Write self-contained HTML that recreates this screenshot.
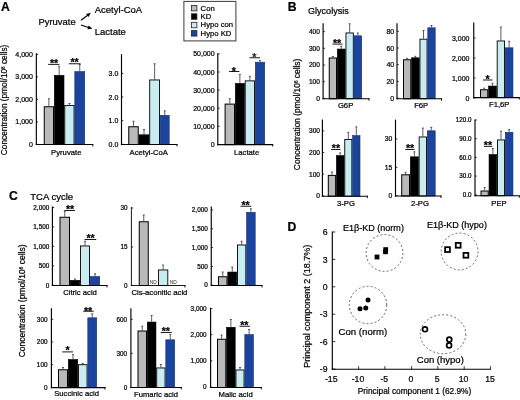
<!DOCTYPE html>
<html><head><meta charset="utf-8"><title>Figure</title>
<style>
html,body{margin:0;padding:0;background:#fff;}
body{width:520px;height:400px;overflow:hidden;font-family:"Liberation Sans",sans-serif;}
svg{display:block;}
svg text{font-family:"Liberation Sans",sans-serif;}
</style></head><body>
<svg width="520" height="400" viewBox="0 0 520 400">
<rect x="0" y="0" width="520" height="400" fill="#ffffff"/>
<text x="1" y="11" font-size="12.2" text-anchor="start" font-weight="bold" fill="#000" stroke="#000" stroke-width="0.22" >A</text>
<text x="38.4" y="24.7" font-size="9.45" text-anchor="start" font-weight="normal" fill="#000" stroke="#000" stroke-width="0.22" >Pyruvate</text>
<text x="94.7" y="12.8" font-size="9.5" text-anchor="start" font-weight="normal" fill="#000" stroke="#000" stroke-width="0.22" >Acetyl-CoA</text>
<text x="94.7" y="34.5" font-size="9.5" text-anchor="start" font-weight="normal" fill="#000" stroke="#000" stroke-width="0.22" >Lactate</text>
<line x1="81" y1="20.3" x2="87.65" y2="15.2" stroke="#000" stroke-width="1.1" />
<polygon points="90.90,12.70 88.41,17.01 86.09,13.99" fill="#000"/>
<line x1="81" y1="25.1" x2="88.5" y2="27.53" stroke="#000" stroke-width="1.1" />
<polygon points="92.40,28.80 87.44,29.19 88.61,25.57" fill="#000"/>
<rect x="183.9" y="1.4" width="52" height="39.5" fill="#fff" stroke="#3a3a3a" stroke-width="1"/>
<rect x="191.4" y="5.3999999999999995" width="5.5" height="5.5" fill="#b9b9b9" stroke="#222" stroke-width="0.8"/>
<text x="200.6" y="10.7" font-size="7.7" text-anchor="start" font-weight="normal" fill="#000" stroke="#000" stroke-width="0.22" >Con</text>
<rect x="191.4" y="13.8" width="5.5" height="5.5" fill="#000000" stroke="#222" stroke-width="0.8"/>
<text x="200.6" y="19.1" font-size="7.7" text-anchor="start" font-weight="normal" fill="#000" stroke="#000" stroke-width="0.22" >KD</text>
<rect x="191.4" y="22.3" width="5.5" height="5.5" fill="#c9ecf0" stroke="#222" stroke-width="0.8"/>
<text x="200.6" y="27.4" font-size="7.7" text-anchor="start" font-weight="normal" fill="#000" stroke="#000" stroke-width="0.22" >Hypo con</text>
<rect x="191.4" y="30.599999999999998" width="5.5" height="5.5" fill="#1b449f" stroke="#222" stroke-width="0.8"/>
<text x="200.6" y="35.5" font-size="7.7" text-anchor="start" font-weight="normal" fill="#000" stroke="#000" stroke-width="0.22" >Hypo KD</text>
<text transform="translate(7.1,99.9) rotate(-90)" font-size="8.31" text-anchor="middle" fill="#000" stroke="#000" stroke-width="0.22">Concentration (pmol/10<tspan font-size="4.6" dy="-2.2">6</tspan><tspan dy="2.2"> cells)</tspan></text>
<line x1="48.875" y1="98.75" x2="48.875" y2="106.25" stroke="#2a2a2a" stroke-width="0.75" />
<line x1="47.875" y1="98.75" x2="49.875" y2="98.75" stroke="#2a2a2a" stroke-width="0.75" />
<rect x="44.25" y="106.75" width="9.25" height="37.75" fill="#b9b9b9" stroke="#000" stroke-width="1.0"/>
<line x1="59.15" y1="66.25" x2="59.15" y2="75" stroke="#2a2a2a" stroke-width="0.75" />
<line x1="58.15" y1="66.25" x2="60.15" y2="66.25" stroke="#2a2a2a" stroke-width="0.75" />
<rect x="54.30" y="75.30" width="9.70" height="69.20" fill="#000000" stroke="#000" stroke-width="0.6"/>
<line x1="69.4" y1="103.5" x2="69.4" y2="105" stroke="#2a2a2a" stroke-width="0.75" />
<line x1="68.4" y1="103.5" x2="70.4" y2="103.5" stroke="#2a2a2a" stroke-width="0.75" />
<rect x="64.75" y="105.45" width="9.30" height="39.05" fill="#c9ecf0" stroke="#000" stroke-width="0.9"/>
<line x1="79.75" y1="64.5" x2="79.75" y2="71.25" stroke="#2a2a2a" stroke-width="0.75" />
<line x1="78.75" y1="64.5" x2="80.75" y2="64.5" stroke="#2a2a2a" stroke-width="0.75" />
<rect x="74.80" y="71.55" width="9.90" height="72.95" fill="#1b449f" stroke="#12306f" stroke-width="0.6"/>
<line x1="36.35" y1="53.35" x2="36.35" y2="145.075" stroke="#000" stroke-width="1.15" />
<line x1="35.775" y1="144.5" x2="93.2" y2="144.5" stroke="#000" stroke-width="1.15" />
<line x1="92.8" y1="144.0" x2="92.8" y2="146.5" stroke="#000" stroke-width="0.9" />
<line x1="36.35" y1="54.4" x2="38.15" y2="54.4" stroke="#000" stroke-width="0.8" />
<text x="32.9" y="56.91" font-size="7.0" text-anchor="end" font-weight="normal" fill="#000" stroke="#000" stroke-width="0.22" >4,000</text>
<line x1="36.35" y1="76.9" x2="38.15" y2="76.9" stroke="#000" stroke-width="0.8" />
<text x="32.9" y="79.41" font-size="7.0" text-anchor="end" font-weight="normal" fill="#000" stroke="#000" stroke-width="0.22" >3,000</text>
<line x1="36.35" y1="99.4" x2="38.15" y2="99.4" stroke="#000" stroke-width="0.8" />
<text x="32.9" y="101.91" font-size="7.0" text-anchor="end" font-weight="normal" fill="#000" stroke="#000" stroke-width="0.22" >2,000</text>
<line x1="36.35" y1="121.9" x2="38.15" y2="121.9" stroke="#000" stroke-width="0.8" />
<text x="32.9" y="124.41" font-size="7.0" text-anchor="end" font-weight="normal" fill="#000" stroke="#000" stroke-width="0.22" >1,000</text>
<line x1="36.35" y1="144.4" x2="38.15" y2="144.4" stroke="#000" stroke-width="0.8" />
<text x="32.9" y="146.91" font-size="7.0" text-anchor="end" font-weight="normal" fill="#000" stroke="#000" stroke-width="0.22" >0</text>
<line x1="48.1" y1="64.4" x2="59.4" y2="64.4" stroke="#000" stroke-width="0.9" />
<text x="54" y="66.9" font-size="10.6" text-anchor="middle" font-weight="bold" fill="#000" stroke="#000" stroke-width="0.22" >**</text>
<line x1="68.75" y1="63.75" x2="80.5" y2="63.75" stroke="#000" stroke-width="0.9" />
<text x="74.5" y="66.25" font-size="10.6" text-anchor="middle" font-weight="bold" fill="#000" stroke="#000" stroke-width="0.22" >**</text>
<text x="66.25" y="155" font-size="7.7" text-anchor="middle" font-weight="normal" fill="#000" stroke="#000" stroke-width="0.22" >Pyruvate</text>
<line x1="133.5" y1="121.25" x2="133.5" y2="126.25" stroke="#2a2a2a" stroke-width="0.75" />
<line x1="132.5" y1="121.25" x2="134.5" y2="121.25" stroke="#2a2a2a" stroke-width="0.75" />
<rect x="128.75" y="126.75" width="9.50" height="17.75" fill="#b9b9b9" stroke="#000" stroke-width="1.0"/>
<line x1="144.0" y1="129.5" x2="144.0" y2="134.5" stroke="#2a2a2a" stroke-width="0.75" />
<line x1="143.0" y1="129.5" x2="145.0" y2="129.5" stroke="#2a2a2a" stroke-width="0.75" />
<rect x="139.05" y="134.80" width="9.90" height="9.70" fill="#000000" stroke="#000" stroke-width="0.6"/>
<line x1="154.625" y1="63.75" x2="154.625" y2="79.5" stroke="#2a2a2a" stroke-width="0.75" />
<line x1="153.625" y1="63.75" x2="155.625" y2="63.75" stroke="#2a2a2a" stroke-width="0.75" />
<rect x="149.70" y="79.95" width="9.85" height="64.55" fill="#c9ecf0" stroke="#000" stroke-width="0.9"/>
<line x1="164.75" y1="110.8" x2="164.75" y2="115" stroke="#2a2a2a" stroke-width="0.75" />
<line x1="163.75" y1="110.8" x2="165.75" y2="110.8" stroke="#2a2a2a" stroke-width="0.75" />
<rect x="160.30" y="115.30" width="8.90" height="29.20" fill="#1b449f" stroke="#12306f" stroke-width="0.6"/>
<line x1="121.5" y1="54.1" x2="121.5" y2="145.075" stroke="#000" stroke-width="1.15" />
<line x1="120.925" y1="144.5" x2="177.4" y2="144.5" stroke="#000" stroke-width="1.15" />
<line x1="177" y1="144.0" x2="177" y2="146.5" stroke="#000" stroke-width="0.9" />
<line x1="121.5" y1="73.4" x2="123.3" y2="73.4" stroke="#000" stroke-width="0.8" />
<text x="118.3" y="75.91" font-size="7.0" text-anchor="end" font-weight="normal" fill="#000" stroke="#000" stroke-width="0.22" >3.0</text>
<line x1="121.5" y1="97" x2="123.3" y2="97" stroke="#000" stroke-width="0.8" />
<text x="118.3" y="99.51" font-size="7.0" text-anchor="end" font-weight="normal" fill="#000" stroke="#000" stroke-width="0.22" >2.0</text>
<line x1="121.5" y1="120.6" x2="123.3" y2="120.6" stroke="#000" stroke-width="0.8" />
<text x="118.3" y="123.11" font-size="7.0" text-anchor="end" font-weight="normal" fill="#000" stroke="#000" stroke-width="0.22" >1.0</text>
<line x1="121.5" y1="144.25" x2="123.3" y2="144.25" stroke="#000" stroke-width="0.8" />
<text x="118.3" y="146.76" font-size="7.0" text-anchor="end" font-weight="normal" fill="#000" stroke="#000" stroke-width="0.22" >0.0</text>
<text x="148.75" y="155" font-size="7.7" text-anchor="middle" font-weight="normal" fill="#000" stroke="#000" stroke-width="0.22" >Acetyl-CoA</text>
<line x1="229.8" y1="98.65" x2="229.8" y2="103.6" stroke="#2a2a2a" stroke-width="0.75" />
<line x1="228.8" y1="98.65" x2="230.8" y2="98.65" stroke="#2a2a2a" stroke-width="0.75" />
<rect x="225.10" y="104.10" width="9.40" height="40.50" fill="#b9b9b9" stroke="#000" stroke-width="1.0"/>
<line x1="239.875" y1="74.4" x2="239.875" y2="83.1" stroke="#2a2a2a" stroke-width="0.75" />
<line x1="238.875" y1="74.4" x2="240.875" y2="74.4" stroke="#2a2a2a" stroke-width="0.75" />
<rect x="235.30" y="83.40" width="9.15" height="61.20" fill="#000000" stroke="#000" stroke-width="0.6"/>
<line x1="249.875" y1="76.25" x2="249.875" y2="80.4" stroke="#2a2a2a" stroke-width="0.75" />
<line x1="248.875" y1="76.25" x2="250.875" y2="76.25" stroke="#2a2a2a" stroke-width="0.75" />
<rect x="245.20" y="80.85" width="9.35" height="63.75" fill="#c9ecf0" stroke="#000" stroke-width="0.9"/>
<line x1="260.0" y1="60.6" x2="260.0" y2="61.9" stroke="#2a2a2a" stroke-width="0.75" />
<line x1="259.0" y1="60.6" x2="261.0" y2="60.6" stroke="#2a2a2a" stroke-width="0.75" />
<rect x="255.30" y="62.20" width="9.40" height="82.40" fill="#1b449f" stroke="#12306f" stroke-width="0.6"/>
<line x1="217.8" y1="53.35" x2="217.8" y2="145.17499999999998" stroke="#000" stroke-width="1.15" />
<line x1="217.22500000000002" y1="144.6" x2="273.09999999999997" y2="144.6" stroke="#000" stroke-width="1.15" />
<line x1="272.7" y1="144.1" x2="272.7" y2="146.6" stroke="#000" stroke-width="0.9" />
<line x1="217.8" y1="53.9" x2="219.60000000000002" y2="53.9" stroke="#000" stroke-width="0.8" />
<text x="214.6" y="56.41" font-size="7.0" text-anchor="end" font-weight="normal" fill="#000" stroke="#000" stroke-width="0.22" >50,000</text>
<line x1="217.8" y1="72" x2="219.60000000000002" y2="72" stroke="#000" stroke-width="0.8" />
<text x="214.6" y="74.51" font-size="7.0" text-anchor="end" font-weight="normal" fill="#000" stroke="#000" stroke-width="0.22" >40,000</text>
<line x1="217.8" y1="90.1" x2="219.60000000000002" y2="90.1" stroke="#000" stroke-width="0.8" />
<text x="214.6" y="92.61" font-size="7.0" text-anchor="end" font-weight="normal" fill="#000" stroke="#000" stroke-width="0.22" >30,000</text>
<line x1="217.8" y1="108.2" x2="219.60000000000002" y2="108.2" stroke="#000" stroke-width="0.8" />
<text x="214.6" y="110.71" font-size="7.0" text-anchor="end" font-weight="normal" fill="#000" stroke="#000" stroke-width="0.22" >20,000</text>
<line x1="217.8" y1="126.3" x2="219.60000000000002" y2="126.3" stroke="#000" stroke-width="0.8" />
<text x="214.6" y="128.81" font-size="7.0" text-anchor="end" font-weight="normal" fill="#000" stroke="#000" stroke-width="0.22" >10,000</text>
<line x1="217.8" y1="144.5" x2="219.60000000000002" y2="144.5" stroke="#000" stroke-width="0.8" />
<text x="214.6" y="147.01" font-size="7.0" text-anchor="end" font-weight="normal" fill="#000" stroke="#000" stroke-width="0.22" >0</text>
<line x1="229" y1="71.5" x2="239.4" y2="71.5" stroke="#000" stroke-width="0.9" />
<text x="233.75" y="74.9" font-size="10.6" text-anchor="middle" font-weight="bold" fill="#000" stroke="#000" stroke-width="0.22" >*</text>
<line x1="249.4" y1="57.75" x2="260" y2="57.75" stroke="#000" stroke-width="0.9" />
<text x="254.4" y="61.15" font-size="10.6" text-anchor="middle" font-weight="bold" fill="#3a2048" stroke="#3a2048" stroke-width="0.22" >*</text>
<text x="246.6" y="155" font-size="7.7" text-anchor="middle" font-weight="normal" fill="#000" stroke="#000" stroke-width="0.22" >Lactate</text>
<text x="287.8" y="11.3" font-size="12.2" text-anchor="start" font-weight="bold" fill="#000" stroke="#000" stroke-width="0.22" >B</text>
<text x="308" y="13.5" font-size="9.05" text-anchor="start" font-weight="normal" fill="#000" stroke="#000" stroke-width="0.22" >Glycolysis</text>
<text transform="translate(299.8,114.4) rotate(-90)" font-size="8.39" text-anchor="middle" fill="#000" stroke="#000" stroke-width="0.22">Concentration (pmol/10<tspan font-size="4.6" dy="-2.2">6</tspan><tspan dy="2.2"> cells)</tspan></text>
<line x1="332.875" y1="56.5" x2="332.875" y2="57.5" stroke="#2a2a2a" stroke-width="0.75" />
<line x1="331.875" y1="56.5" x2="333.875" y2="56.5" stroke="#2a2a2a" stroke-width="0.75" />
<rect x="329.25" y="58.00" width="7.25" height="40.75" fill="#b9b9b9" stroke="#000" stroke-width="1.0"/>
<line x1="341.25" y1="46.25" x2="341.25" y2="48.75" stroke="#2a2a2a" stroke-width="0.75" />
<line x1="340.25" y1="46.25" x2="342.25" y2="46.25" stroke="#2a2a2a" stroke-width="0.75" />
<rect x="337.30" y="49.05" width="7.90" height="49.70" fill="#000000" stroke="#000" stroke-width="0.6"/>
<line x1="349.625" y1="23.75" x2="349.625" y2="32.5" stroke="#2a2a2a" stroke-width="0.75" />
<line x1="348.625" y1="23.75" x2="350.625" y2="23.75" stroke="#2a2a2a" stroke-width="0.75" />
<rect x="345.95" y="32.95" width="7.35" height="65.80" fill="#c9ecf0" stroke="#000" stroke-width="0.9"/>
<line x1="357.875" y1="33" x2="357.875" y2="35.5" stroke="#2a2a2a" stroke-width="0.75" />
<line x1="356.875" y1="33" x2="358.875" y2="33" stroke="#2a2a2a" stroke-width="0.75" />
<rect x="354.05" y="35.80" width="7.65" height="62.95" fill="#1b449f" stroke="#12306f" stroke-width="0.6"/>
<line x1="323.1" y1="23.35" x2="323.1" y2="99.325" stroke="#000" stroke-width="1.15" />
<line x1="322.52500000000003" y1="98.75" x2="369.4" y2="98.75" stroke="#000" stroke-width="1.15" />
<line x1="369" y1="98.25" x2="369" y2="100.75" stroke="#000" stroke-width="0.9" />
<line x1="323.1" y1="31.6" x2="324.90000000000003" y2="31.6" stroke="#000" stroke-width="0.8" />
<text x="319.9" y="33.96" font-size="6.6" text-anchor="end" font-weight="normal" fill="#000" stroke="#000" stroke-width="0.22" >400</text>
<line x1="323.1" y1="48.3" x2="324.90000000000003" y2="48.3" stroke="#000" stroke-width="0.8" />
<text x="319.9" y="50.66" font-size="6.6" text-anchor="end" font-weight="normal" fill="#000" stroke="#000" stroke-width="0.22" >300</text>
<line x1="323.1" y1="65.0" x2="324.90000000000003" y2="65.0" stroke="#000" stroke-width="0.8" />
<text x="319.9" y="67.36" font-size="6.6" text-anchor="end" font-weight="normal" fill="#000" stroke="#000" stroke-width="0.22" >200</text>
<line x1="323.1" y1="81.7" x2="324.90000000000003" y2="81.7" stroke="#000" stroke-width="0.8" />
<text x="319.9" y="84.06" font-size="6.6" text-anchor="end" font-weight="normal" fill="#000" stroke="#000" stroke-width="0.22" >100</text>
<line x1="323.1" y1="98.4" x2="324.90000000000003" y2="98.4" stroke="#000" stroke-width="0.8" />
<text x="319.9" y="100.76" font-size="6.6" text-anchor="end" font-weight="normal" fill="#000" stroke="#000" stroke-width="0.22" >0</text>
<line x1="332.5" y1="44.1" x2="342.5" y2="44.1" stroke="#000" stroke-width="0.9" />
<text x="337" y="47.300000000000004" font-size="10.6" text-anchor="middle" font-weight="bold" fill="#000" stroke="#000" stroke-width="0.22" >**</text>
<text x="345.6" y="108" font-size="7.7" text-anchor="middle" font-weight="normal" fill="#000" stroke="#000" stroke-width="0.22" >G6P</text>
<line x1="407.125" y1="58.3" x2="407.125" y2="59.25" stroke="#2a2a2a" stroke-width="0.75" />
<line x1="406.125" y1="58.3" x2="408.125" y2="58.3" stroke="#2a2a2a" stroke-width="0.75" />
<rect x="403.50" y="59.75" width="7.25" height="39.00" fill="#b9b9b9" stroke="#000" stroke-width="1.0"/>
<line x1="415.375" y1="56.3" x2="415.375" y2="57.5" stroke="#2a2a2a" stroke-width="0.75" />
<line x1="414.375" y1="56.3" x2="416.375" y2="56.3" stroke="#2a2a2a" stroke-width="0.75" />
<rect x="411.55" y="57.80" width="7.65" height="40.95" fill="#000000" stroke="#000" stroke-width="0.6"/>
<line x1="423.5" y1="30.5" x2="423.5" y2="38.75" stroke="#2a2a2a" stroke-width="0.75" />
<line x1="422.5" y1="30.5" x2="424.5" y2="30.5" stroke="#2a2a2a" stroke-width="0.75" />
<rect x="419.95" y="39.20" width="7.10" height="59.55" fill="#c9ecf0" stroke="#000" stroke-width="0.9"/>
<line x1="431.5" y1="25.5" x2="431.5" y2="27.5" stroke="#2a2a2a" stroke-width="0.75" />
<line x1="430.5" y1="25.5" x2="432.5" y2="25.5" stroke="#2a2a2a" stroke-width="0.75" />
<rect x="427.80" y="27.80" width="7.40" height="70.95" fill="#1b449f" stroke="#12306f" stroke-width="0.6"/>
<line x1="397" y1="23.35" x2="397" y2="99.325" stroke="#000" stroke-width="1.15" />
<line x1="396.425" y1="98.75" x2="441.9" y2="98.75" stroke="#000" stroke-width="1.15" />
<line x1="441.5" y1="98.25" x2="441.5" y2="100.75" stroke="#000" stroke-width="0.9" />
<line x1="397" y1="31.3" x2="398.8" y2="31.3" stroke="#000" stroke-width="0.8" />
<text x="394.2" y="33.81" font-size="7.0" text-anchor="end" font-weight="normal" fill="#000" stroke="#000" stroke-width="0.22" >80</text>
<line x1="397" y1="48" x2="398.8" y2="48" stroke="#000" stroke-width="0.8" />
<text x="394.2" y="50.51" font-size="7.0" text-anchor="end" font-weight="normal" fill="#000" stroke="#000" stroke-width="0.22" >60</text>
<line x1="397" y1="64.7" x2="398.8" y2="64.7" stroke="#000" stroke-width="0.8" />
<text x="394.2" y="67.21" font-size="7.0" text-anchor="end" font-weight="normal" fill="#000" stroke="#000" stroke-width="0.22" >40</text>
<line x1="397" y1="81.4" x2="398.8" y2="81.4" stroke="#000" stroke-width="0.8" />
<text x="394.2" y="83.91" font-size="7.0" text-anchor="end" font-weight="normal" fill="#000" stroke="#000" stroke-width="0.22" >20</text>
<line x1="397" y1="98.1" x2="398.8" y2="98.1" stroke="#000" stroke-width="0.8" />
<text x="394.2" y="100.61" font-size="7.0" text-anchor="end" font-weight="normal" fill="#000" stroke="#000" stroke-width="0.22" >0</text>
<text x="421.2" y="107.6" font-size="7.7" text-anchor="middle" font-weight="normal" fill="#000" stroke="#000" stroke-width="0.22" >F6P</text>
<line x1="484.125" y1="88.2" x2="484.125" y2="89.25" stroke="#2a2a2a" stroke-width="0.75" />
<line x1="483.125" y1="88.2" x2="485.125" y2="88.2" stroke="#2a2a2a" stroke-width="0.75" />
<rect x="480.50" y="89.75" width="7.25" height="7.85" fill="#b9b9b9" stroke="#000" stroke-width="1.0"/>
<line x1="492.5" y1="83.25" x2="492.5" y2="85.75" stroke="#2a2a2a" stroke-width="0.75" />
<line x1="491.5" y1="83.25" x2="493.5" y2="83.25" stroke="#2a2a2a" stroke-width="0.75" />
<rect x="488.55" y="86.05" width="7.90" height="11.55" fill="#000000" stroke="#000" stroke-width="0.6"/>
<line x1="500.875" y1="27" x2="500.875" y2="40.5" stroke="#2a2a2a" stroke-width="0.75" />
<line x1="499.875" y1="27" x2="501.875" y2="27" stroke="#2a2a2a" stroke-width="0.75" />
<rect x="497.20" y="40.95" width="7.35" height="56.65" fill="#c9ecf0" stroke="#000" stroke-width="0.9"/>
<line x1="509.125" y1="41.25" x2="509.125" y2="47.5" stroke="#2a2a2a" stroke-width="0.75" />
<line x1="508.125" y1="41.25" x2="510.125" y2="41.25" stroke="#2a2a2a" stroke-width="0.75" />
<rect x="505.30" y="47.80" width="7.65" height="49.80" fill="#1b449f" stroke="#12306f" stroke-width="0.6"/>
<line x1="473.75" y1="22.6" x2="473.75" y2="98.175" stroke="#000" stroke-width="1.15" />
<line x1="473.175" y1="97.6" x2="519.6999999999999" y2="97.6" stroke="#000" stroke-width="1.15" />
<line x1="519.3" y1="97.1" x2="519.3" y2="99.6" stroke="#000" stroke-width="0.9" />
<line x1="473.75" y1="38" x2="475.55" y2="38" stroke="#000" stroke-width="0.8" />
<text x="469.5" y="40.51" font-size="7.0" text-anchor="end" font-weight="normal" fill="#000" stroke="#000" stroke-width="0.22" >3,000</text>
<line x1="473.75" y1="58" x2="475.55" y2="58" stroke="#000" stroke-width="0.8" />
<text x="469.5" y="60.51" font-size="7.0" text-anchor="end" font-weight="normal" fill="#000" stroke="#000" stroke-width="0.22" >2,000</text>
<line x1="473.75" y1="78" x2="475.55" y2="78" stroke="#000" stroke-width="0.8" />
<text x="469.5" y="80.51" font-size="7.0" text-anchor="end" font-weight="normal" fill="#000" stroke="#000" stroke-width="0.22" >1,000</text>
<line x1="473.75" y1="98" x2="475.55" y2="98" stroke="#000" stroke-width="0.8" />
<text x="469.5" y="100.51" font-size="7.0" text-anchor="end" font-weight="normal" fill="#000" stroke="#000" stroke-width="0.22" >0</text>
<line x1="483" y1="80" x2="492.5" y2="80" stroke="#000" stroke-width="0.9" />
<text x="487.5" y="82.5" font-size="10.6" text-anchor="middle" font-weight="bold" fill="#000" stroke="#000" stroke-width="0.22" >*</text>
<text x="499.2" y="106.6" font-size="7.7" text-anchor="middle" font-weight="normal" fill="#000" stroke="#000" stroke-width="0.22" >F1,6P</text>
<line x1="331.95000000000005" y1="172" x2="331.95000000000005" y2="174.9" stroke="#2a2a2a" stroke-width="0.75" />
<line x1="330.95000000000005" y1="172" x2="332.95000000000005" y2="172" stroke="#2a2a2a" stroke-width="0.75" />
<rect x="328.30" y="175.40" width="7.30" height="20.80" fill="#b9b9b9" stroke="#000" stroke-width="1.0"/>
<line x1="340.20000000000005" y1="152.9" x2="340.20000000000005" y2="155.3" stroke="#2a2a2a" stroke-width="0.75" />
<line x1="339.20000000000005" y1="152.9" x2="341.20000000000005" y2="152.9" stroke="#2a2a2a" stroke-width="0.75" />
<rect x="336.40" y="155.60" width="7.60" height="40.60" fill="#000000" stroke="#000" stroke-width="0.6"/>
<line x1="348.3" y1="132.3" x2="348.3" y2="139" stroke="#2a2a2a" stroke-width="0.75" />
<line x1="347.3" y1="132.3" x2="349.3" y2="132.3" stroke="#2a2a2a" stroke-width="0.75" />
<rect x="344.75" y="139.45" width="7.10" height="56.75" fill="#c9ecf0" stroke="#000" stroke-width="0.9"/>
<line x1="356.3" y1="126.9" x2="356.3" y2="135.3" stroke="#2a2a2a" stroke-width="0.75" />
<line x1="355.3" y1="126.9" x2="357.3" y2="126.9" stroke="#2a2a2a" stroke-width="0.75" />
<rect x="352.60" y="135.60" width="7.40" height="60.60" fill="#1b449f" stroke="#12306f" stroke-width="0.6"/>
<line x1="322.4" y1="119.6" x2="322.4" y2="196.77499999999998" stroke="#000" stroke-width="1.15" />
<line x1="321.825" y1="196.2" x2="367.7" y2="196.2" stroke="#000" stroke-width="1.15" />
<line x1="367.3" y1="195.7" x2="367.3" y2="198.2" stroke="#000" stroke-width="0.9" />
<line x1="322.4" y1="130.8" x2="324.2" y2="130.8" stroke="#000" stroke-width="0.8" />
<text x="320" y="133.16" font-size="6.6" text-anchor="end" font-weight="normal" fill="#000" stroke="#000" stroke-width="0.22" >300</text>
<line x1="322.4" y1="152.5" x2="324.2" y2="152.5" stroke="#000" stroke-width="0.8" />
<text x="320" y="154.86" font-size="6.6" text-anchor="end" font-weight="normal" fill="#000" stroke="#000" stroke-width="0.22" >200</text>
<line x1="322.4" y1="174.2" x2="324.2" y2="174.2" stroke="#000" stroke-width="0.8" />
<text x="320" y="176.56" font-size="6.6" text-anchor="end" font-weight="normal" fill="#000" stroke="#000" stroke-width="0.22" >100</text>
<line x1="322.4" y1="195.9" x2="324.2" y2="195.9" stroke="#000" stroke-width="0.8" />
<text x="320" y="198.26" font-size="6.6" text-anchor="end" font-weight="normal" fill="#000" stroke="#000" stroke-width="0.22" >0</text>
<line x1="331.2" y1="149.5" x2="340.4" y2="149.5" stroke="#000" stroke-width="0.9" />
<text x="335.9" y="152.0" font-size="10.6" text-anchor="middle" font-weight="bold" fill="#000" stroke="#000" stroke-width="0.22" >**</text>
<text x="346" y="205.5" font-size="7.7" text-anchor="middle" font-weight="normal" fill="#000" stroke="#000" stroke-width="0.22" >3-PG</text>
<line x1="405.6" y1="172.3" x2="405.6" y2="174.3" stroke="#2a2a2a" stroke-width="0.75" />
<line x1="404.6" y1="172.3" x2="406.6" y2="172.3" stroke="#2a2a2a" stroke-width="0.75" />
<rect x="401.70" y="174.80" width="7.80" height="21.20" fill="#b9b9b9" stroke="#000" stroke-width="1.0"/>
<line x1="414.35" y1="151.8" x2="414.35" y2="156.5" stroke="#2a2a2a" stroke-width="0.75" />
<line x1="413.35" y1="151.8" x2="415.35" y2="151.8" stroke="#2a2a2a" stroke-width="0.75" />
<rect x="410.30" y="156.80" width="8.10" height="39.20" fill="#000000" stroke="#000" stroke-width="0.6"/>
<line x1="422.85" y1="128.1" x2="422.85" y2="136.5" stroke="#2a2a2a" stroke-width="0.75" />
<line x1="421.85" y1="128.1" x2="423.85" y2="128.1" stroke="#2a2a2a" stroke-width="0.75" />
<rect x="419.15" y="136.95" width="7.40" height="59.05" fill="#c9ecf0" stroke="#000" stroke-width="0.9"/>
<line x1="431.25" y1="127.3" x2="431.25" y2="130.5" stroke="#2a2a2a" stroke-width="0.75" />
<line x1="430.25" y1="127.3" x2="432.25" y2="127.3" stroke="#2a2a2a" stroke-width="0.75" />
<rect x="427.30" y="130.80" width="7.90" height="65.20" fill="#1b449f" stroke="#12306f" stroke-width="0.6"/>
<line x1="395.5" y1="119.6" x2="395.5" y2="196.575" stroke="#000" stroke-width="1.15" />
<line x1="394.925" y1="196" x2="441.4" y2="196" stroke="#000" stroke-width="1.15" />
<line x1="441" y1="195.5" x2="441" y2="198.0" stroke="#000" stroke-width="0.9" />
<line x1="395.5" y1="139" x2="397.3" y2="139" stroke="#000" stroke-width="0.8" />
<text x="392.3" y="141.43" font-size="6.8" text-anchor="end" font-weight="normal" fill="#000" stroke="#000" stroke-width="0.22" >30</text>
<line x1="395.5" y1="167.4" x2="397.3" y2="167.4" stroke="#000" stroke-width="0.8" />
<text x="392.3" y="169.83" font-size="6.8" text-anchor="end" font-weight="normal" fill="#000" stroke="#000" stroke-width="0.22" >15</text>
<line x1="395.5" y1="195.7" x2="397.3" y2="195.7" stroke="#000" stroke-width="0.8" />
<text x="392.3" y="198.13" font-size="6.8" text-anchor="end" font-weight="normal" fill="#000" stroke="#000" stroke-width="0.22" >0</text>
<line x1="405.4" y1="149.5" x2="414.6" y2="149.5" stroke="#000" stroke-width="0.9" />
<text x="410" y="152.0" font-size="10.6" text-anchor="middle" font-weight="bold" fill="#000" stroke="#000" stroke-width="0.22" >**</text>
<text x="420" y="205.5" font-size="7.7" text-anchor="middle" font-weight="normal" fill="#000" stroke="#000" stroke-width="0.22" >2-PG</text>
<line x1="484.625" y1="187.5" x2="484.625" y2="190.5" stroke="#2a2a2a" stroke-width="0.75" />
<line x1="483.625" y1="187.5" x2="485.625" y2="187.5" stroke="#2a2a2a" stroke-width="0.75" />
<rect x="481.00" y="191.00" width="7.25" height="4.75" fill="#b9b9b9" stroke="#000" stroke-width="1.0"/>
<line x1="492.875" y1="148.5" x2="492.875" y2="154.25" stroke="#2a2a2a" stroke-width="0.75" />
<line x1="491.875" y1="148.5" x2="493.875" y2="148.5" stroke="#2a2a2a" stroke-width="0.75" />
<rect x="489.05" y="154.55" width="7.65" height="41.20" fill="#000000" stroke="#000" stroke-width="0.6"/>
<line x1="501.0" y1="131.25" x2="501.0" y2="139.5" stroke="#2a2a2a" stroke-width="0.75" />
<line x1="500.0" y1="131.25" x2="502.0" y2="131.25" stroke="#2a2a2a" stroke-width="0.75" />
<rect x="497.45" y="139.95" width="7.10" height="55.80" fill="#c9ecf0" stroke="#000" stroke-width="0.9"/>
<line x1="509.125" y1="129.5" x2="509.125" y2="132" stroke="#2a2a2a" stroke-width="0.75" />
<line x1="508.125" y1="129.5" x2="510.125" y2="129.5" stroke="#2a2a2a" stroke-width="0.75" />
<rect x="505.30" y="132.30" width="7.65" height="63.45" fill="#1b449f" stroke="#12306f" stroke-width="0.6"/>
<line x1="475.0" y1="119.6" x2="475.0" y2="196.325" stroke="#000" stroke-width="1.15" />
<line x1="474.425" y1="195.75" x2="519.6999999999999" y2="195.75" stroke="#000" stroke-width="1.15" />
<line x1="519.3" y1="195.25" x2="519.3" y2="197.75" stroke="#000" stroke-width="0.9" />
<line x1="475.0" y1="120" x2="476.8" y2="120" stroke="#000" stroke-width="0.8" />
<text x="471.4" y="122.26" font-size="6.3" text-anchor="end" font-weight="normal" fill="#000" stroke="#000" stroke-width="0.22" >120.0</text>
<line x1="475.0" y1="138.7" x2="476.8" y2="138.7" stroke="#000" stroke-width="0.8" />
<text x="471.4" y="140.96" font-size="6.3" text-anchor="end" font-weight="normal" fill="#000" stroke="#000" stroke-width="0.22" >90.0</text>
<line x1="475.0" y1="157.4" x2="476.8" y2="157.4" stroke="#000" stroke-width="0.8" />
<text x="471.4" y="159.66" font-size="6.3" text-anchor="end" font-weight="normal" fill="#000" stroke="#000" stroke-width="0.22" >60.0</text>
<line x1="475.0" y1="176.1" x2="476.8" y2="176.1" stroke="#000" stroke-width="0.8" />
<text x="471.4" y="178.36" font-size="6.3" text-anchor="end" font-weight="normal" fill="#000" stroke="#000" stroke-width="0.22" >30.0</text>
<line x1="475.0" y1="194.9" x2="476.8" y2="194.9" stroke="#000" stroke-width="0.8" />
<text x="471.4" y="197.16" font-size="6.3" text-anchor="end" font-weight="normal" fill="#000" stroke="#000" stroke-width="0.22" >0.0</text>
<line x1="483.9" y1="146.4" x2="492.3" y2="146.4" stroke="#000" stroke-width="0.9" />
<text x="487.9" y="148.9" font-size="10.6" text-anchor="middle" font-weight="bold" fill="#000" stroke="#000" stroke-width="0.22" >**</text>
<text x="499" y="205.5" font-size="7.7" text-anchor="middle" font-weight="normal" fill="#000" stroke="#000" stroke-width="0.22" >PEP</text>
<text x="9.1" y="200.3" font-size="12.2" text-anchor="start" font-weight="bold" fill="#000" stroke="#000" stroke-width="0.22" >C</text>
<text x="30.2" y="200" font-size="9.55" text-anchor="start" font-weight="normal" fill="#000" stroke="#000" stroke-width="0.22" >TCA cycle</text>
<text transform="translate(24.8,300.9) rotate(-90)" font-size="8.47" text-anchor="middle" fill="#000" stroke="#000" stroke-width="0.22">Concentration (pmol/10<tspan font-size="4.6" dy="-2.2">6</tspan><tspan dy="2.2"> cells)</tspan></text>
<line x1="64.75" y1="211.25" x2="64.75" y2="216.75" stroke="#2a2a2a" stroke-width="0.75" />
<line x1="63.75" y1="211.25" x2="65.75" y2="211.25" stroke="#2a2a2a" stroke-width="0.75" />
<rect x="60.00" y="217.25" width="9.50" height="68.25" fill="#b9b9b9" stroke="#000" stroke-width="1.0"/>
<line x1="75.0" y1="279" x2="75.0" y2="280" stroke="#2a2a2a" stroke-width="0.75" />
<line x1="74.0" y1="279" x2="76.0" y2="279" stroke="#2a2a2a" stroke-width="0.75" />
<rect x="70.30" y="280.30" width="9.40" height="5.20" fill="#000000" stroke="#000" stroke-width="0.6"/>
<line x1="85.0" y1="241.25" x2="85.0" y2="245.5" stroke="#2a2a2a" stroke-width="0.75" />
<line x1="84.0" y1="241.25" x2="86.0" y2="241.25" stroke="#2a2a2a" stroke-width="0.75" />
<rect x="80.45" y="245.95" width="9.10" height="39.55" fill="#c9ecf0" stroke="#000" stroke-width="0.9"/>
<line x1="95.0" y1="273.75" x2="95.0" y2="276.25" stroke="#2a2a2a" stroke-width="0.75" />
<line x1="94.0" y1="273.75" x2="96.0" y2="273.75" stroke="#2a2a2a" stroke-width="0.75" />
<rect x="90.30" y="276.55" width="9.40" height="8.95" fill="#1b449f" stroke="#12306f" stroke-width="0.6"/>
<line x1="52.4" y1="206.6" x2="52.4" y2="286.075" stroke="#000" stroke-width="1.15" />
<line x1="51.824999999999996" y1="285.5" x2="107.4" y2="285.5" stroke="#000" stroke-width="1.15" />
<line x1="107" y1="285.0" x2="107" y2="287.5" stroke="#000" stroke-width="0.9" />
<line x1="52.4" y1="207.5" x2="54.199999999999996" y2="207.5" stroke="#000" stroke-width="0.8" />
<text x="49.3" y="209.79" font-size="6.4" text-anchor="end" font-weight="normal" fill="#000" stroke="#000" stroke-width="0.22" >2,000</text>
<line x1="52.4" y1="226.9" x2="54.199999999999996" y2="226.9" stroke="#000" stroke-width="0.8" />
<text x="49.3" y="229.19" font-size="6.4" text-anchor="end" font-weight="normal" fill="#000" stroke="#000" stroke-width="0.22" >1,500</text>
<line x1="52.4" y1="246.3" x2="54.199999999999996" y2="246.3" stroke="#000" stroke-width="0.8" />
<text x="49.3" y="248.59" font-size="6.4" text-anchor="end" font-weight="normal" fill="#000" stroke="#000" stroke-width="0.22" >1,000</text>
<line x1="52.4" y1="265.8" x2="54.199999999999996" y2="265.8" stroke="#000" stroke-width="0.8" />
<text x="49.3" y="268.09" font-size="6.4" text-anchor="end" font-weight="normal" fill="#000" stroke="#000" stroke-width="0.22" >500</text>
<line x1="52.4" y1="285.3" x2="54.199999999999996" y2="285.3" stroke="#000" stroke-width="0.8" />
<text x="49.3" y="287.59" font-size="6.4" text-anchor="end" font-weight="normal" fill="#000" stroke="#000" stroke-width="0.22" >0</text>
<line x1="64.5" y1="210.5" x2="75" y2="210.5" stroke="#000" stroke-width="0.9" />
<text x="70" y="213.0" font-size="10.6" text-anchor="middle" font-weight="bold" fill="#000" stroke="#000" stroke-width="0.22" >**</text>
<line x1="84.5" y1="239.5" x2="96.25" y2="239.5" stroke="#000" stroke-width="0.9" />
<text x="90.5" y="242.0" font-size="10.6" text-anchor="middle" font-weight="bold" fill="#000" stroke="#000" stroke-width="0.22" >**</text>
<text x="80" y="295.0" font-size="7.7" text-anchor="middle" font-weight="normal" fill="#000" stroke="#000" stroke-width="0.22" >Citric acid</text>
<line x1="143.75" y1="215" x2="143.75" y2="221.25" stroke="#2a2a2a" stroke-width="0.75" />
<line x1="142.75" y1="215" x2="144.75" y2="215" stroke="#2a2a2a" stroke-width="0.75" />
<rect x="139.25" y="221.75" width="9.00" height="63.75" fill="#b9b9b9" stroke="#000" stroke-width="1.0"/>
<line x1="163.125" y1="265" x2="163.125" y2="269.5" stroke="#2a2a2a" stroke-width="0.75" />
<line x1="162.125" y1="265" x2="164.125" y2="265" stroke="#2a2a2a" stroke-width="0.75" />
<rect x="158.45" y="269.95" width="9.35" height="15.55" fill="#c9ecf0" stroke="#000" stroke-width="0.9"/>
<line x1="131.4" y1="207.1" x2="131.4" y2="285.95" stroke="#000" stroke-width="0.9" />
<line x1="130.95000000000002" y1="285.5" x2="185.4" y2="285.5" stroke="#000" stroke-width="0.9" />
<line x1="185" y1="285.0" x2="185" y2="287.5" stroke="#000" stroke-width="0.9" />
<line x1="131.4" y1="208" x2="133.20000000000002" y2="208" stroke="#000" stroke-width="0.8" />
<text x="127.5" y="210.29" font-size="6.4" text-anchor="end" font-weight="normal" fill="#000" stroke="#000" stroke-width="0.22" >30</text>
<line x1="131.4" y1="247" x2="133.20000000000002" y2="247" stroke="#000" stroke-width="0.8" />
<text x="127.5" y="249.29" font-size="6.4" text-anchor="end" font-weight="normal" fill="#000" stroke="#000" stroke-width="0.22" >15</text>
<line x1="131.4" y1="285.5" x2="133.20000000000002" y2="285.5" stroke="#000" stroke-width="0.8" />
<text x="127.5" y="287.79" font-size="6.4" text-anchor="end" font-weight="normal" fill="#000" stroke="#000" stroke-width="0.22" >0</text>
<text x="159.4" y="294.7" font-size="7.7" text-anchor="middle" font-weight="normal" fill="#000" stroke="#000" stroke-width="0.22" >Cis-aconitic acid</text>
<text x="153.3" y="283.8" font-size="4.8" text-anchor="middle" fill="#222">ND</text>
<text x="173.2" y="283.8" font-size="4.8" text-anchor="middle" fill="#222">ND</text>
<line x1="222.75" y1="272" x2="222.75" y2="276.25" stroke="#2a2a2a" stroke-width="0.75" />
<line x1="221.75" y1="272" x2="223.75" y2="272" stroke="#2a2a2a" stroke-width="0.75" />
<rect x="218.50" y="276.75" width="8.50" height="8.75" fill="#b9b9b9" stroke="#000" stroke-width="1.0"/>
<line x1="232.25" y1="267" x2="232.25" y2="271.75" stroke="#2a2a2a" stroke-width="0.75" />
<line x1="231.25" y1="267" x2="233.25" y2="267" stroke="#2a2a2a" stroke-width="0.75" />
<rect x="227.80" y="272.05" width="8.90" height="13.45" fill="#000000" stroke="#000" stroke-width="0.6"/>
<line x1="241.625" y1="241.25" x2="241.625" y2="244.5" stroke="#2a2a2a" stroke-width="0.75" />
<line x1="240.625" y1="241.25" x2="242.625" y2="241.25" stroke="#2a2a2a" stroke-width="0.75" />
<rect x="237.45" y="244.95" width="8.35" height="40.55" fill="#c9ecf0" stroke="#000" stroke-width="0.9"/>
<line x1="250.875" y1="208.75" x2="250.875" y2="212" stroke="#2a2a2a" stroke-width="0.75" />
<line x1="249.875" y1="208.75" x2="251.875" y2="208.75" stroke="#2a2a2a" stroke-width="0.75" />
<rect x="246.55" y="212.30" width="8.65" height="73.20" fill="#1b449f" stroke="#12306f" stroke-width="0.6"/>
<line x1="211.25" y1="206.6" x2="211.25" y2="286.075" stroke="#000" stroke-width="1.15" />
<line x1="210.675" y1="285.5" x2="262.4" y2="285.5" stroke="#000" stroke-width="1.15" />
<line x1="262" y1="285.0" x2="262" y2="287.5" stroke="#000" stroke-width="0.9" />
<line x1="211.25" y1="210" x2="213.05" y2="210" stroke="#000" stroke-width="0.8" />
<text x="207.8" y="212.29" font-size="6.4" text-anchor="end" font-weight="normal" fill="#000" stroke="#000" stroke-width="0.22" >2,000</text>
<line x1="211.25" y1="228.8" x2="213.05" y2="228.8" stroke="#000" stroke-width="0.8" />
<text x="207.8" y="231.09" font-size="6.4" text-anchor="end" font-weight="normal" fill="#000" stroke="#000" stroke-width="0.22" >1,500</text>
<line x1="211.25" y1="247.6" x2="213.05" y2="247.6" stroke="#000" stroke-width="0.8" />
<text x="207.8" y="249.89" font-size="6.4" text-anchor="end" font-weight="normal" fill="#000" stroke="#000" stroke-width="0.22" >1,000</text>
<line x1="211.25" y1="266.4" x2="213.05" y2="266.4" stroke="#000" stroke-width="0.8" />
<text x="207.8" y="268.69" font-size="6.4" text-anchor="end" font-weight="normal" fill="#000" stroke="#000" stroke-width="0.22" >500</text>
<line x1="211.25" y1="285.2" x2="213.05" y2="285.2" stroke="#000" stroke-width="0.8" />
<text x="207.8" y="287.49" font-size="6.4" text-anchor="end" font-weight="normal" fill="#000" stroke="#000" stroke-width="0.22" >0</text>
<line x1="240.5" y1="206.25" x2="251.25" y2="206.25" stroke="#000" stroke-width="0.9" />
<text x="245.5" y="208.75" font-size="10.6" text-anchor="middle" font-weight="bold" fill="#000" stroke="#000" stroke-width="0.22" >**</text>
<line x1="63.0" y1="367.5" x2="63.0" y2="369.25" stroke="#2a2a2a" stroke-width="0.75" />
<line x1="62.0" y1="367.5" x2="64.0" y2="367.5" stroke="#2a2a2a" stroke-width="0.75" />
<rect x="58.50" y="369.75" width="9.00" height="17.85" fill="#b9b9b9" stroke="#000" stroke-width="1.0"/>
<line x1="73.0" y1="354.6" x2="73.0" y2="359.25" stroke="#2a2a2a" stroke-width="0.75" />
<line x1="72.0" y1="354.6" x2="74.0" y2="354.6" stroke="#2a2a2a" stroke-width="0.75" />
<rect x="68.30" y="359.55" width="9.40" height="28.05" fill="#000000" stroke="#000" stroke-width="0.6"/>
<line x1="82.75" y1="363.5" x2="82.75" y2="364.25" stroke="#2a2a2a" stroke-width="0.75" />
<line x1="81.75" y1="363.5" x2="83.75" y2="363.5" stroke="#2a2a2a" stroke-width="0.75" />
<rect x="78.45" y="364.70" width="8.60" height="22.90" fill="#c9ecf0" stroke="#000" stroke-width="0.9"/>
<line x1="92.25" y1="313.75" x2="92.25" y2="317.5" stroke="#2a2a2a" stroke-width="0.75" />
<line x1="91.25" y1="313.75" x2="93.25" y2="313.75" stroke="#2a2a2a" stroke-width="0.75" />
<rect x="87.80" y="317.80" width="8.90" height="69.80" fill="#1b449f" stroke="#12306f" stroke-width="0.6"/>
<line x1="51.4" y1="308.35" x2="51.4" y2="388.175" stroke="#000" stroke-width="1.15" />
<line x1="50.824999999999996" y1="387.6" x2="105.4" y2="387.6" stroke="#000" stroke-width="1.15" />
<line x1="105" y1="387.1" x2="105" y2="389.6" stroke="#000" stroke-width="0.9" />
<line x1="51.4" y1="319.3" x2="53.199999999999996" y2="319.3" stroke="#000" stroke-width="0.8" />
<text x="47.5" y="321.59" font-size="6.4" text-anchor="end" font-weight="normal" fill="#000" stroke="#000" stroke-width="0.22" >300</text>
<line x1="51.4" y1="342" x2="53.199999999999996" y2="342" stroke="#000" stroke-width="0.8" />
<text x="47.5" y="344.29" font-size="6.4" text-anchor="end" font-weight="normal" fill="#000" stroke="#000" stroke-width="0.22" >200</text>
<line x1="51.4" y1="364.7" x2="53.199999999999996" y2="364.7" stroke="#000" stroke-width="0.8" />
<text x="47.5" y="366.99" font-size="6.4" text-anchor="end" font-weight="normal" fill="#000" stroke="#000" stroke-width="0.22" >100</text>
<line x1="51.4" y1="387.4" x2="53.199999999999996" y2="387.4" stroke="#000" stroke-width="0.8" />
<text x="47.5" y="389.69" font-size="6.4" text-anchor="end" font-weight="normal" fill="#000" stroke="#000" stroke-width="0.22" >0</text>
<line x1="62.3" y1="351.9" x2="73" y2="351.9" stroke="#000" stroke-width="0.9" />
<text x="67.5" y="354.4" font-size="10.6" text-anchor="middle" font-weight="bold" fill="#000" stroke="#000" stroke-width="0.22" >*</text>
<line x1="83.25" y1="311.25" x2="93.75" y2="311.25" stroke="#000" stroke-width="0.9" />
<text x="88" y="314.55" font-size="10.6" text-anchor="middle" font-weight="bold" fill="#000" stroke="#000" stroke-width="0.22" >**</text>
<text x="76.6" y="396.4" font-size="7.7" text-anchor="middle" font-weight="normal" fill="#000" stroke="#000" stroke-width="0.22" >Succinic acid</text>
<line x1="142.25" y1="326.25" x2="142.25" y2="330.5" stroke="#2a2a2a" stroke-width="0.75" />
<line x1="141.25" y1="326.25" x2="143.25" y2="326.25" stroke="#2a2a2a" stroke-width="0.75" />
<rect x="138.00" y="331.00" width="8.50" height="56.50" fill="#b9b9b9" stroke="#000" stroke-width="1.0"/>
<line x1="151.625" y1="315.5" x2="151.625" y2="321.75" stroke="#2a2a2a" stroke-width="0.75" />
<line x1="150.625" y1="315.5" x2="152.625" y2="315.5" stroke="#2a2a2a" stroke-width="0.75" />
<rect x="147.30" y="322.05" width="8.65" height="65.45" fill="#000000" stroke="#000" stroke-width="0.6"/>
<line x1="160.875" y1="364.5" x2="160.875" y2="367.5" stroke="#2a2a2a" stroke-width="0.75" />
<line x1="159.875" y1="364.5" x2="161.875" y2="364.5" stroke="#2a2a2a" stroke-width="0.75" />
<rect x="156.70" y="367.95" width="8.35" height="19.55" fill="#c9ecf0" stroke="#000" stroke-width="0.9"/>
<line x1="170.25" y1="334.5" x2="170.25" y2="339.5" stroke="#2a2a2a" stroke-width="0.75" />
<line x1="169.25" y1="334.5" x2="171.25" y2="334.5" stroke="#2a2a2a" stroke-width="0.75" />
<rect x="165.80" y="339.80" width="8.90" height="47.70" fill="#1b449f" stroke="#12306f" stroke-width="0.6"/>
<line x1="130.9" y1="308.35" x2="130.9" y2="388.075" stroke="#000" stroke-width="1.15" />
<line x1="130.32500000000002" y1="387.5" x2="181.70000000000002" y2="387.5" stroke="#000" stroke-width="1.15" />
<line x1="181.3" y1="387.0" x2="181.3" y2="389.5" stroke="#000" stroke-width="0.9" />
<line x1="130.9" y1="319.3" x2="132.70000000000002" y2="319.3" stroke="#000" stroke-width="0.8" />
<text x="127.2" y="321.59" font-size="6.4" text-anchor="end" font-weight="normal" fill="#000" stroke="#000" stroke-width="0.22" >600</text>
<line x1="130.9" y1="353.3" x2="132.70000000000002" y2="353.3" stroke="#000" stroke-width="0.8" />
<text x="127.2" y="355.59" font-size="6.4" text-anchor="end" font-weight="normal" fill="#000" stroke="#000" stroke-width="0.22" >300</text>
<line x1="130.9" y1="387.4" x2="132.70000000000002" y2="387.4" stroke="#000" stroke-width="0.8" />
<text x="127.2" y="389.69" font-size="6.4" text-anchor="end" font-weight="normal" fill="#000" stroke="#000" stroke-width="0.22" >0</text>
<line x1="160.75" y1="332.5" x2="171.75" y2="332.5" stroke="#000" stroke-width="0.9" />
<text x="165.75" y="335.0" font-size="10.6" text-anchor="middle" font-weight="bold" fill="#000" stroke="#000" stroke-width="0.22" >**</text>
<text x="156" y="396.8" font-size="7.7" text-anchor="middle" font-weight="normal" fill="#000" stroke="#000" stroke-width="0.22" >Fumaric acid</text>
<line x1="221.625" y1="335" x2="221.625" y2="338.75" stroke="#2a2a2a" stroke-width="0.75" />
<line x1="220.625" y1="335" x2="222.625" y2="335" stroke="#2a2a2a" stroke-width="0.75" />
<rect x="217.50" y="339.25" width="8.25" height="48.25" fill="#b9b9b9" stroke="#000" stroke-width="1.0"/>
<line x1="230.875" y1="319.5" x2="230.875" y2="327" stroke="#2a2a2a" stroke-width="0.75" />
<line x1="229.875" y1="319.5" x2="231.875" y2="319.5" stroke="#2a2a2a" stroke-width="0.75" />
<rect x="226.55" y="327.30" width="8.65" height="60.20" fill="#000000" stroke="#000" stroke-width="0.6"/>
<line x1="240.0" y1="367.5" x2="240.0" y2="369.5" stroke="#2a2a2a" stroke-width="0.75" />
<line x1="239.0" y1="367.5" x2="241.0" y2="367.5" stroke="#2a2a2a" stroke-width="0.75" />
<rect x="235.95" y="369.95" width="8.10" height="17.55" fill="#c9ecf0" stroke="#000" stroke-width="0.9"/>
<line x1="249.125" y1="329.5" x2="249.125" y2="334.25" stroke="#2a2a2a" stroke-width="0.75" />
<line x1="248.125" y1="329.5" x2="250.125" y2="329.5" stroke="#2a2a2a" stroke-width="0.75" />
<rect x="244.80" y="334.55" width="8.65" height="52.95" fill="#1b449f" stroke="#12306f" stroke-width="0.6"/>
<line x1="210.6" y1="307.8" x2="210.6" y2="388.075" stroke="#000" stroke-width="1.15" />
<line x1="210.025" y1="387.5" x2="261.7" y2="387.5" stroke="#000" stroke-width="1.15" />
<line x1="261.3" y1="387.0" x2="261.3" y2="389.5" stroke="#000" stroke-width="0.9" />
<line x1="210.6" y1="308.5" x2="212.4" y2="308.5" stroke="#000" stroke-width="0.8" />
<text x="206.6" y="310.79" font-size="6.4" text-anchor="end" font-weight="normal" fill="#000" stroke="#000" stroke-width="0.22" >3,000</text>
<line x1="210.6" y1="334.6" x2="212.4" y2="334.6" stroke="#000" stroke-width="0.8" />
<text x="206.6" y="336.89" font-size="6.4" text-anchor="end" font-weight="normal" fill="#000" stroke="#000" stroke-width="0.22" >2,000</text>
<line x1="210.6" y1="360.8" x2="212.4" y2="360.8" stroke="#000" stroke-width="0.8" />
<text x="206.6" y="363.09" font-size="6.4" text-anchor="end" font-weight="normal" fill="#000" stroke="#000" stroke-width="0.22" >1,000</text>
<line x1="210.6" y1="387.2" x2="212.4" y2="387.2" stroke="#000" stroke-width="0.8" />
<text x="206.6" y="389.49" font-size="6.4" text-anchor="end" font-weight="normal" fill="#000" stroke="#000" stroke-width="0.22" >0</text>
<line x1="239.5" y1="326.25" x2="250" y2="326.25" stroke="#000" stroke-width="0.9" />
<text x="244.25" y="328.75" font-size="10.6" text-anchor="middle" font-weight="bold" fill="#000" stroke="#000" stroke-width="0.22" >**</text>
<text x="235.6" y="397" font-size="7.7" text-anchor="middle" font-weight="normal" fill="#000" stroke="#000" stroke-width="0.22" >Malic acid</text>
<text x="287.6" y="231.3" font-size="12.2" text-anchor="start" font-weight="bold" fill="#000" stroke="#000" stroke-width="0.22" >D</text>
<line x1="332.3" y1="231.4" x2="332.3" y2="369.8" stroke="#000" stroke-width="1.15" />
<line x1="331.8" y1="369.2" x2="491" y2="369.2" stroke="#000" stroke-width="1.15" />
<line x1="332.3" y1="232" x2="335.3" y2="232" stroke="#000" stroke-width="0.8" />
<text x="327.6" y="235.1" font-size="8.7" text-anchor="end" font-weight="normal" fill="#000" stroke="#000" stroke-width="0.22" >6</text>
<line x1="332.3" y1="259.4" x2="335.3" y2="259.4" stroke="#000" stroke-width="0.8" />
<text x="327.6" y="262.5" font-size="8.7" text-anchor="end" font-weight="normal" fill="#000" stroke="#000" stroke-width="0.22" >3</text>
<line x1="332.3" y1="286.8" x2="335.3" y2="286.8" stroke="#000" stroke-width="0.8" />
<text x="327.6" y="289.90000000000003" font-size="8.7" text-anchor="end" font-weight="normal" fill="#000" stroke="#000" stroke-width="0.22" >0</text>
<line x1="332.3" y1="314.2" x2="335.3" y2="314.2" stroke="#000" stroke-width="0.8" />
<text x="327.6" y="317.3" font-size="8.7" text-anchor="end" font-weight="normal" fill="#000" stroke="#000" stroke-width="0.22" >-3</text>
<line x1="332.3" y1="341.6" x2="335.3" y2="341.6" stroke="#000" stroke-width="0.8" />
<text x="327.6" y="344.70000000000005" font-size="8.7" text-anchor="end" font-weight="normal" fill="#000" stroke="#000" stroke-width="0.22" >-6</text>
<line x1="332.3" y1="369" x2="335.3" y2="369" stroke="#000" stroke-width="0.8" />
<text x="327.6" y="372.1" font-size="8.7" text-anchor="end" font-weight="normal" fill="#000" stroke="#000" stroke-width="0.22" >-9</text>
<text x="331.2" y="381.5" font-size="8.7" text-anchor="middle" font-weight="normal" fill="#000" stroke="#000" stroke-width="0.22" >-15</text>
<line x1="358.6" y1="369.2" x2="358.6" y2="366.2" stroke="#000" stroke-width="0.8" />
<text x="358" y="381.5" font-size="8.7" text-anchor="middle" font-weight="normal" fill="#000" stroke="#000" stroke-width="0.22" >-10</text>
<line x1="384.90000000000003" y1="369.2" x2="384.90000000000003" y2="366.2" stroke="#000" stroke-width="0.8" />
<text x="384.3" y="381.5" font-size="8.7" text-anchor="middle" font-weight="normal" fill="#000" stroke="#000" stroke-width="0.22" >-5</text>
<line x1="411.6" y1="369.2" x2="411.6" y2="366.2" stroke="#000" stroke-width="0.8" />
<text x="411" y="381.5" font-size="8.7" text-anchor="middle" font-weight="normal" fill="#000" stroke="#000" stroke-width="0.22" >0</text>
<line x1="437.8" y1="369.2" x2="437.8" y2="366.2" stroke="#000" stroke-width="0.8" />
<text x="437.2" y="381.5" font-size="8.7" text-anchor="middle" font-weight="normal" fill="#000" stroke="#000" stroke-width="0.22" >5</text>
<line x1="464.20000000000005" y1="369.2" x2="464.20000000000005" y2="366.2" stroke="#000" stroke-width="0.8" />
<text x="463.6" y="381.5" font-size="8.7" text-anchor="middle" font-weight="normal" fill="#000" stroke="#000" stroke-width="0.22" >10</text>
<line x1="490.6" y1="369.2" x2="490.6" y2="366.2" stroke="#000" stroke-width="0.8" />
<text x="490" y="381.5" font-size="8.7" text-anchor="middle" font-weight="normal" fill="#000" stroke="#000" stroke-width="0.22" >15</text>
<text transform="translate(310.1,306.2) rotate(-90)" font-size="9.0" text-anchor="middle" fill="#000" stroke="#000" stroke-width="0.22">Principal component 2 (18.7%)</text>
<text x="357.8" y="393.7" font-size="8.3" text-anchor="start" font-weight="normal" fill="#000" stroke="#000" stroke-width="0.22" >Principal component 1 (62.9%)</text>
<text x="342.9" y="231.3" font-size="9.05" text-anchor="start" font-weight="normal" fill="#000" stroke="#000" stroke-width="0.22" >E1β-KD (norm)</text>
<text x="426.9" y="228.1" font-size="9.05" text-anchor="start" font-weight="normal" fill="#000" stroke="#000" stroke-width="0.22" >E1β-KD (hypo)</text>
<text x="338.6" y="335" font-size="9.6" text-anchor="start" font-weight="normal" fill="#000" stroke="#000" stroke-width="0.22" >Con (norm)</text>
<text x="416.8" y="362.6" font-size="9.5" text-anchor="start" font-weight="normal" fill="#000" stroke="#000" stroke-width="0.22" >Con (hypo)</text>
<ellipse cx="384.5" cy="253" rx="18.4" ry="18.4" fill="none" stroke="#555" stroke-width="0.9" stroke-dasharray="2,2.1"/>
<ellipse cx="368" cy="305" rx="18.7" ry="18.7" fill="none" stroke="#555" stroke-width="0.9" stroke-dasharray="2,2.1"/>
<ellipse cx="459.6" cy="251.5" rx="18.4" ry="18.4" fill="none" stroke="#555" stroke-width="0.9" stroke-dasharray="2,2.1"/>
<ellipse cx="443" cy="334.2" rx="22.8" ry="19.5" fill="none" stroke="#555" stroke-width="0.9" stroke-dasharray="2,2.1"/>
<rect x="374.6" y="254.6" width="4.8" height="4.8" fill="#000"/>
<rect x="383.1" y="249.4" width="4.8" height="4.8" fill="#000"/>
<rect x="383.3" y="247.2" width="4.8" height="4.8" fill="#000"/>
<circle cx="360" cy="308.75" r="2.5" fill="#000"/>
<circle cx="365.75" cy="308" r="2.5" fill="#000"/>
<circle cx="368" cy="300" r="2.5" fill="#000"/>
<rect x="445.10" y="247.20" width="4.8" height="4.8" fill="#fff" stroke="#000" stroke-width="1.8"/>
<rect x="455.80" y="242.90" width="4.8" height="4.8" fill="#fff" stroke="#000" stroke-width="1.8"/>
<rect x="463.50" y="252.90" width="4.8" height="4.8" fill="#fff" stroke="#000" stroke-width="1.8"/>
<circle cx="425" cy="329.3" r="2.45" fill="#fff" stroke="#000" stroke-width="1.7"/>
<circle cx="449.3" cy="339.6" r="2.45" fill="#fff" stroke="#000" stroke-width="1.7"/>
<circle cx="449.1" cy="345.4" r="2.45" fill="#fff" stroke="#000" stroke-width="1.7"/>
</svg>
</body></html>
